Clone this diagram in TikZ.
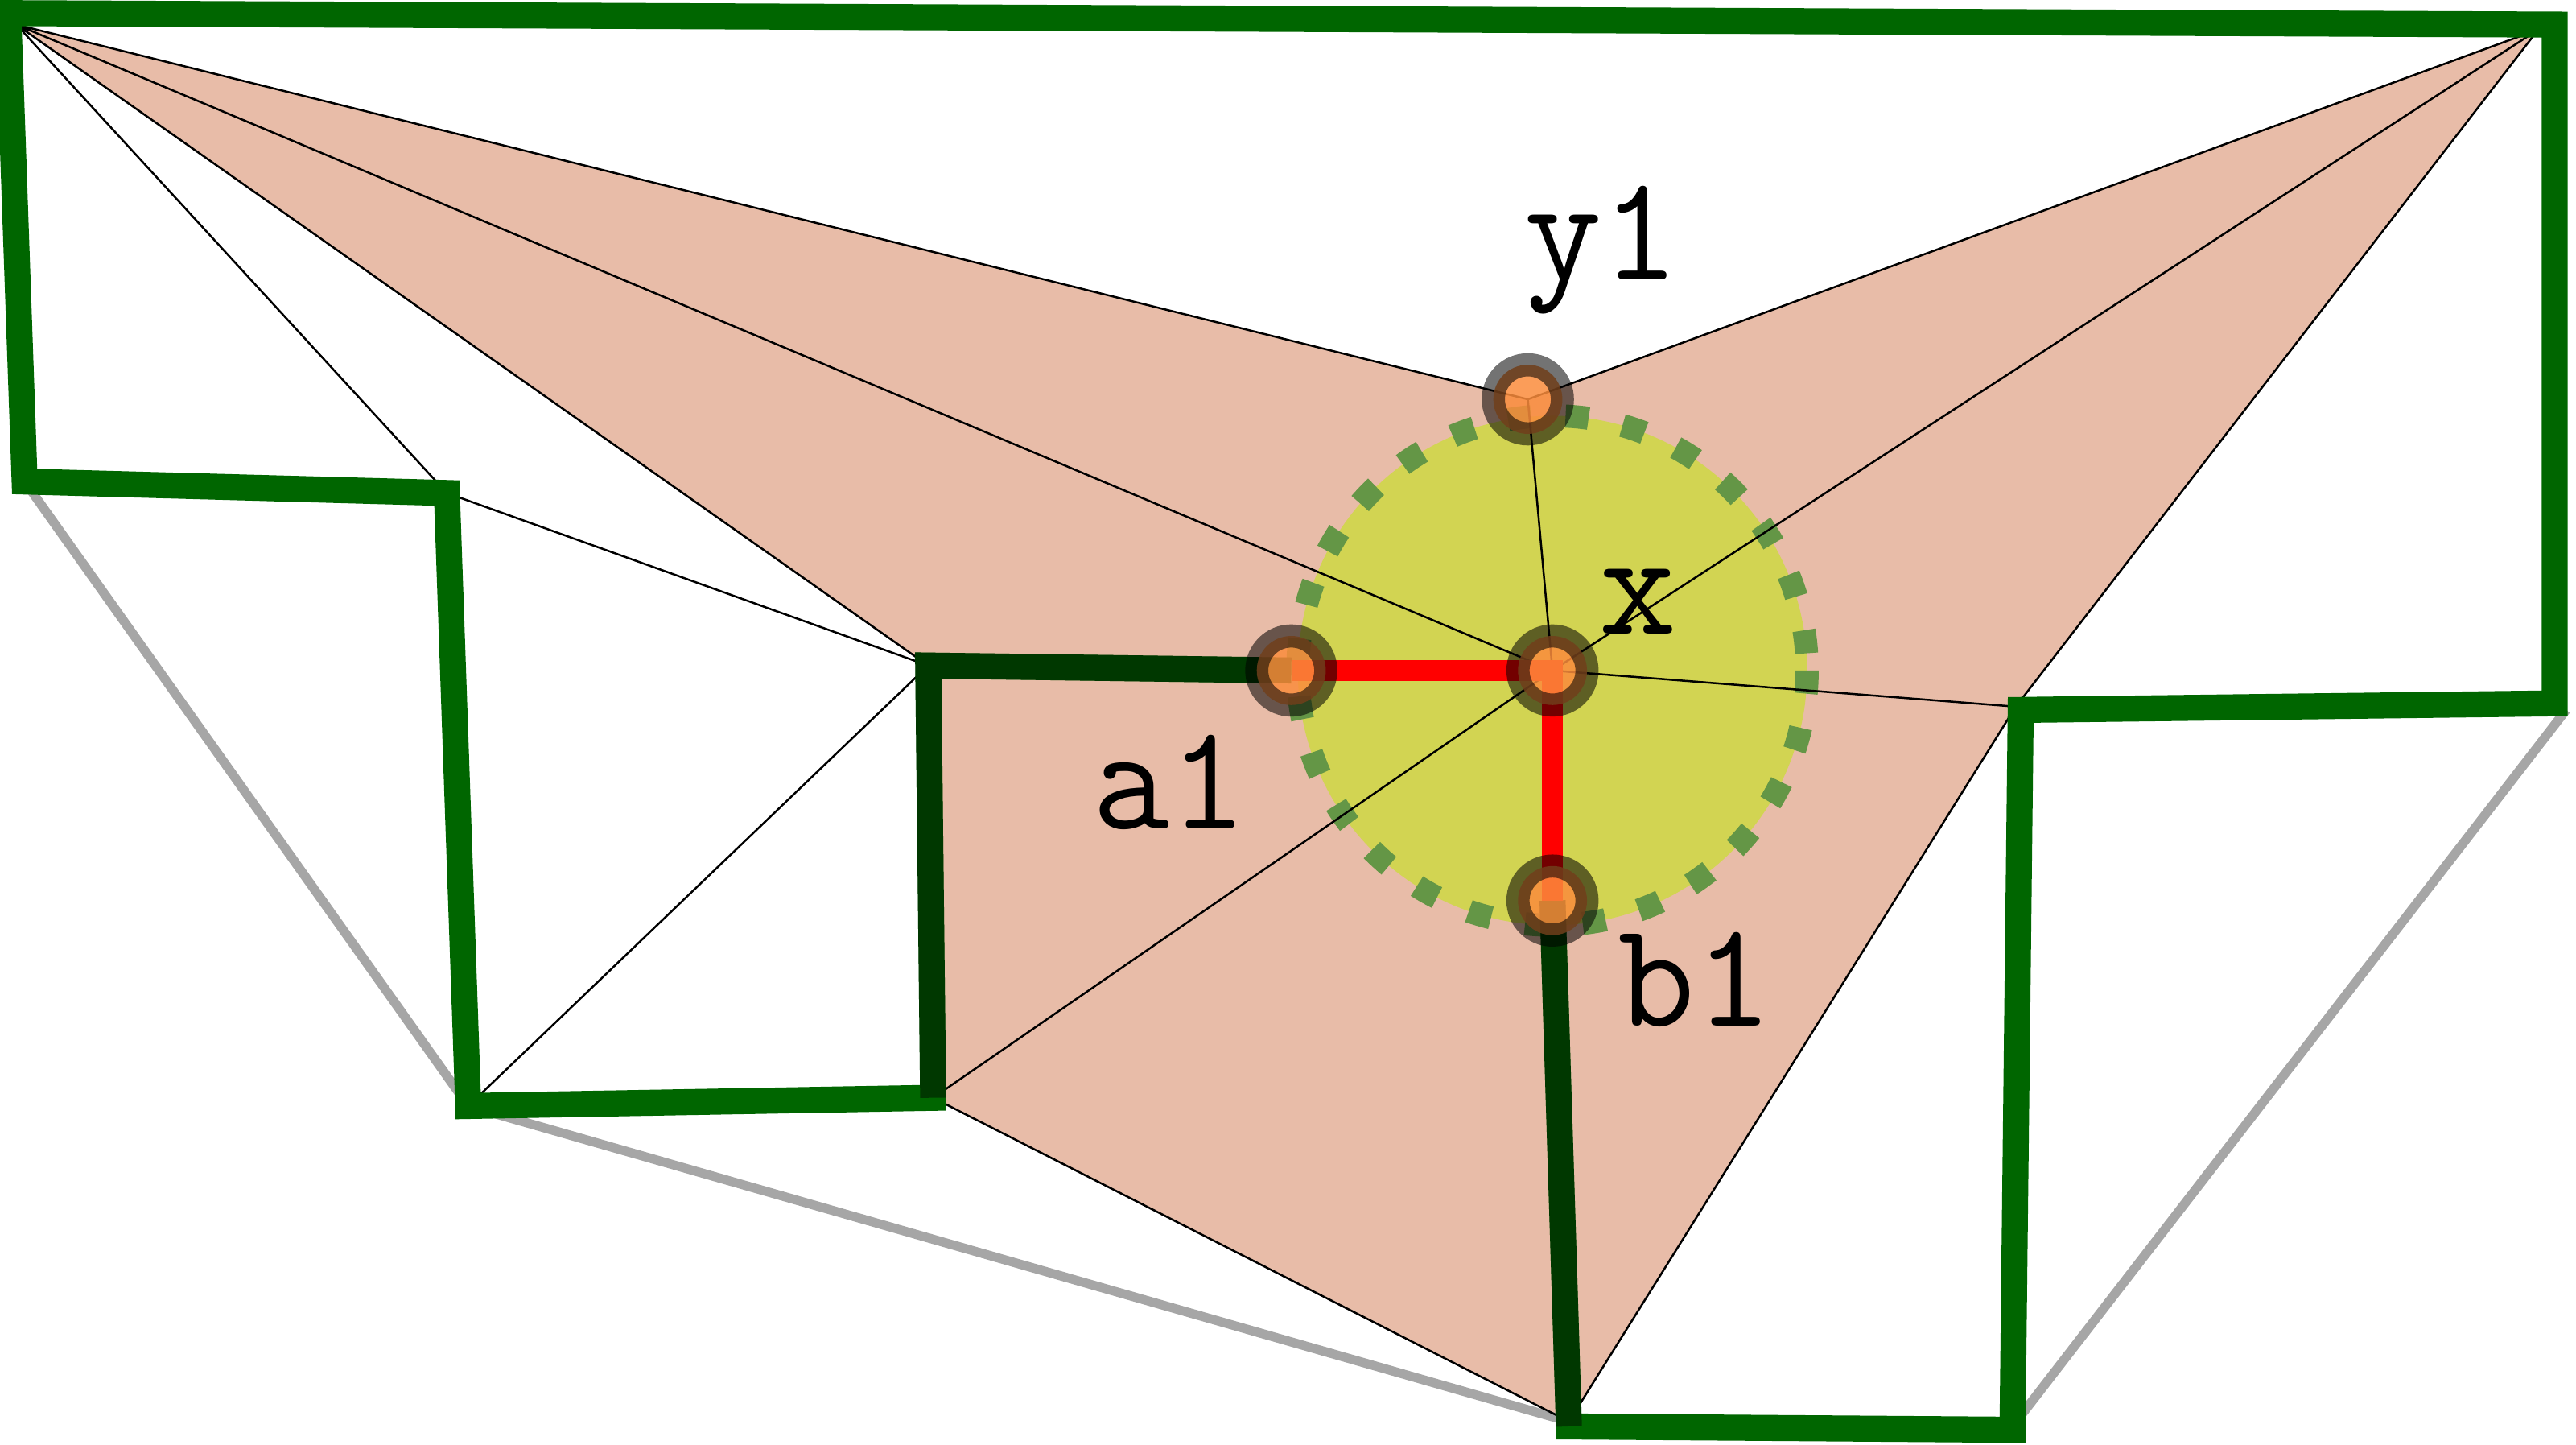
\documentclass[tikz,border=0pt]{standalone}
\definecolor{pinkf}{RGB}{232,188,168}
\definecolor{yel}{RGB}{210,212,82}
\definecolor{dgreen}{RGB}{0,102,0}
\definecolor{dashg}{RGB}{100,150,70}
\definecolor{dotor}{RGB}{250,140,60}
\begin{document}
\begin{tikzpicture}[x=0.01cm,y=-0.01cm,
 thin line/.style={black,line width=0.35pt},
 grn/.style={draw=dgreen,line width=4.5pt,line join=miter},
 dot/.style={circle,minimum size=0.42cm,inner sep=0,fill=dotor,fill opacity=0.85,draw=black,draw opacity=0.55,line width=4pt},
 lab/.style={font=\ttfamily\fontsize{26}{26}\selectfont}]
\useasboundingbox (0,0) rectangle (1568,879);
\coordinate (TL) at (10,15); \coordinate (TR) at (1545,18);
\coordinate (Y) at (930,243); \coordinate (X) at (945,408);
\coordinate (A) at (786,408); \coordinate (B) at (945,548);
\coordinate (P1) at (565,405); \coordinate (P2) at (568,668);
\coordinate (P3) at (272,300); \coordinate (P4) at (285,673);
\coordinate (Q1) at (1227,430); \coordinate (Q2) at (955,865);
\fill[pinkf] (TL) -- (Y) -- (TR) -- (Q1) -- (Q2) -- (P2) -- (P1) -- cycle;
\draw[gray!70,line width=1.6pt] (15,293) -- (P4) -- (Q2) -- (1225,868) -- (1562,432);
\fill[yel] (X) circle (155);
\draw[dashg,line width=4pt,dash pattern=on 4pt off 6pt] (X) circle (155);
\draw[thin line] (TL)--(Y) (TL)--(X) (TL)--(P1) (TL)--(P3) (P3)--(P1) (P1)--(P4)
 (P2)--(X) (X)--(TR) (TR)--(Y) (TR)--(Q1) (Q1)--(Q2) (Q2)--(P2) (X)--(Y) (X)--(Q1) (X)--(B);
\draw[grn] (A) -- (P1) -- (P2) -- (P4) -- (P3) -- (15,293) -- (5,8) -- (1555,15) -- (1555,428) -- (1230,432) -- (1225,870) -- (955,868) -- (B);
\draw[black,opacity=0.45,line width=4.5pt] (A) -- (P1) -- (P2) (B) -- (955,868);
\draw[red,line width=3.6pt] (A) -- (X) -- (B);
\foreach \p in {Y,X,A,B} \node[dot] at (\p) {};
\node[lab] (ly) at (975,152) {y1};
\node[lab] (lx) at (997,366) {x};
\node[lab] (la) at (712,476) {a1};
\node[lab] (lb) at (1032,596) {b1};
\end{tikzpicture}
\end{document}
